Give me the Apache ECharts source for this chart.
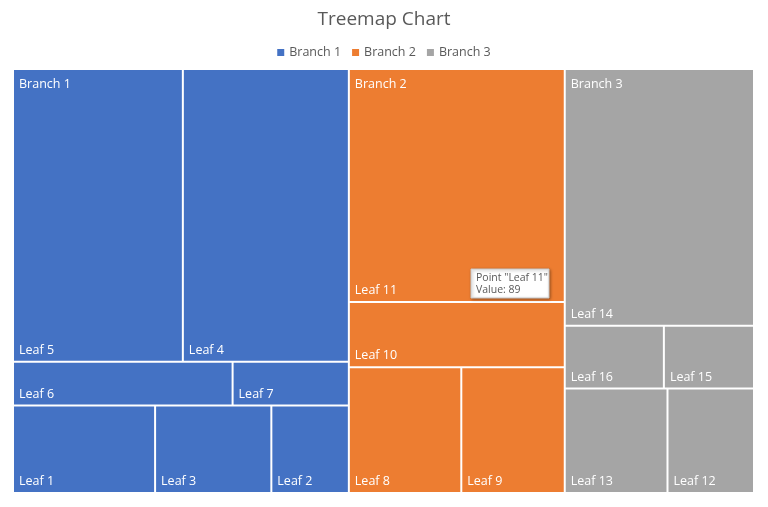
<!DOCTYPE html>
<html>
<head>
<meta charset="utf-8">
<script src="https://cdn.jsdelivr.net/npm/echarts@6/dist/echarts.min.js"></script>
<style>
  html, body { margin: 0; padding: 0; background: #ffffff; }
  #chart { width: 768px; height: 507px; }
</style>
</head>
<body>
<div id="chart"></div>
<script>
// ---- data ----
const branches = ['Branch 1', 'Branch 2', 'Branch 3'];
const branchColors = ['#4472C4', '#ED7D31', '#A5A5A5'];
const leafNames = ['Leaf 1', 'Leaf 2', 'Leaf 3', 'Leaf 4', 'Leaf 5', 'Leaf 6', 'Leaf 7', 'Leaf 8',
                   'Leaf 9', 'Leaf 10', 'Leaf 11', 'Leaf 12', 'Leaf 13', 'Leaf 14', 'Leaf 15', 'Leaf 16'];
const leafValues = [22, 12, 18, 86, 88, 17, 9, 25, 23, 25, 89, 16, 19, 86, 10, 11];
const leafBranch = [0, 0, 0, 0, 0, 0, 0, 1, 1, 1, 1, 2, 2, 2, 2, 2];
// sub-grouping inside each branch (used only to reproduce the tiling arrangement)
const leafGroup  = [1, 1, 1, 0, 0, 0, 0, 1, 1, 0, 0, 1, 1, 0, 0, 0];
const tipLeaf = 10; // index of the hovered leaf shown in the tooltip

const FONT = 'Open Sans';
const CLEAR = 'rgba(255,255,255,0)';

// ---- build tree ----
const treeData = branches.map(function (b, bi) {
  const groups = [0, 1].map(function (g) {
    const children = [];
    leafNames.forEach(function (n, i) {
      if (leafBranch[i] === bi && leafGroup[i] === g) {
        children.push({
          name: n,
          value: leafValues[i],
          itemStyle: { color: branchColors[bi], borderWidth: 1, borderColor: '#ffffff' }
        });
      }
    });
    return { name: b + '-' + g, children: children, itemStyle: { color: branchColors[bi] } };
  });
  return { name: b, children: groups, itemStyle: { color: branchColors[bi] } };
});

const branchData = branches.map(function (b, bi) {
  let s = 0;
  leafValues.forEach(function (v, i) { if (leafBranch[i] === bi) s += v; });
  return { name: b, value: s, itemStyle: { color: CLEAR, borderWidth: 0, borderColor: CLEAR } };
});

const box = { left: 13, top: 69, width: 741, height: 424 };

const chart = echarts.init(document.getElementById('chart'), null, { renderer: 'canvas' });

const option = {
  animation: false,
  title: {
    text: 'Treemap Chart',
    left: 'center',
    top: 5,
    textStyle: { fontFamily: FONT, fontSize: 19, fontWeight: 'normal', color: '#595959' }
  },
  legend: {
    top: 41,
    left: 'center',
    icon: 'rect',
    itemWidth: 7,
    itemHeight: 7,
    itemGap: 11,
    data: branches,
    textStyle: { fontFamily: FONT, fontSize: 12.5, color: '#595959' }
  },
  grid: { left: 0, top: 0, width: 1, height: 1, show: false },
  xAxis: { type: 'value', show: false },
  yAxis: { type: 'value', show: false },
  series: [
    {
      type: 'treemap',
      left: box.left, top: box.top, width: box.width, height: box.height,
      roam: false,
      nodeClick: false,
      breadcrumb: { show: false },
      sort: 'desc',
      itemStyle: { borderWidth: 0, gapWidth: 0, borderColor: '#ffffff' },
      label: {
        show: true,
        position: 'insideBottomLeft',
        formatter: '{b}',
        color: '#ffffff',
        fontFamily: FONT,
        fontSize: 12.5,
        padding: [0, 0, 4, 5]
      },
      upperLabel: { show: false },
      data: treeData,
      z: 2
    },
    {
      type: 'treemap',
      left: box.left, top: box.top, width: box.width, height: box.height,
      roam: false,
      nodeClick: false,
      silent: true,
      breadcrumb: { show: false },
      sort: 'desc',
      color: [CLEAR],
      itemStyle: { color: CLEAR, borderWidth: 0, gapWidth: 0, borderColor: CLEAR },
      label: {
        show: true,
        position: 'insideTopLeft',
        formatter: '{b}',
        color: '#ffffff',
        fontFamily: FONT,
        fontSize: 12.5,
        padding: [9, 0, 0, 6]
      },
      data: branchData,
      z: 5
    }
  ].concat(branches.map(function (b, bi) {
    return {
      type: 'bar', name: b, data: [],
      itemStyle: { color: branchColors[bi] }
    };
  })),
  graphic: {
    elements: [
      {
        type: 'rect',
        x: 471, y: 269,
        z: 100, zlevel: 1,
        shape: { x: 0, y: 0, width: 78, height: 29 },
        style: { fill: '#ffffff', stroke: '#c8c8c8', lineWidth: 1,
                 shadowBlur: 3, shadowOffsetX: 1, shadowOffsetY: 1, shadowColor: 'rgba(0,0,0,0.35)' }
      },
      {
        type: 'text',
        x: 476, y: 272,
        z: 101, zlevel: 1,
        style: {
          text: 'Point "' + leafNames[tipLeaf] + '"\nValue: ' + leafValues[tipLeaf],
          fontFamily: FONT, fontSize: 10.5, lineHeight: 12, fill: '#595959'
        }
      }
    ]
  }
};

chart.setOption(option);
</script>
</body>
</html>
